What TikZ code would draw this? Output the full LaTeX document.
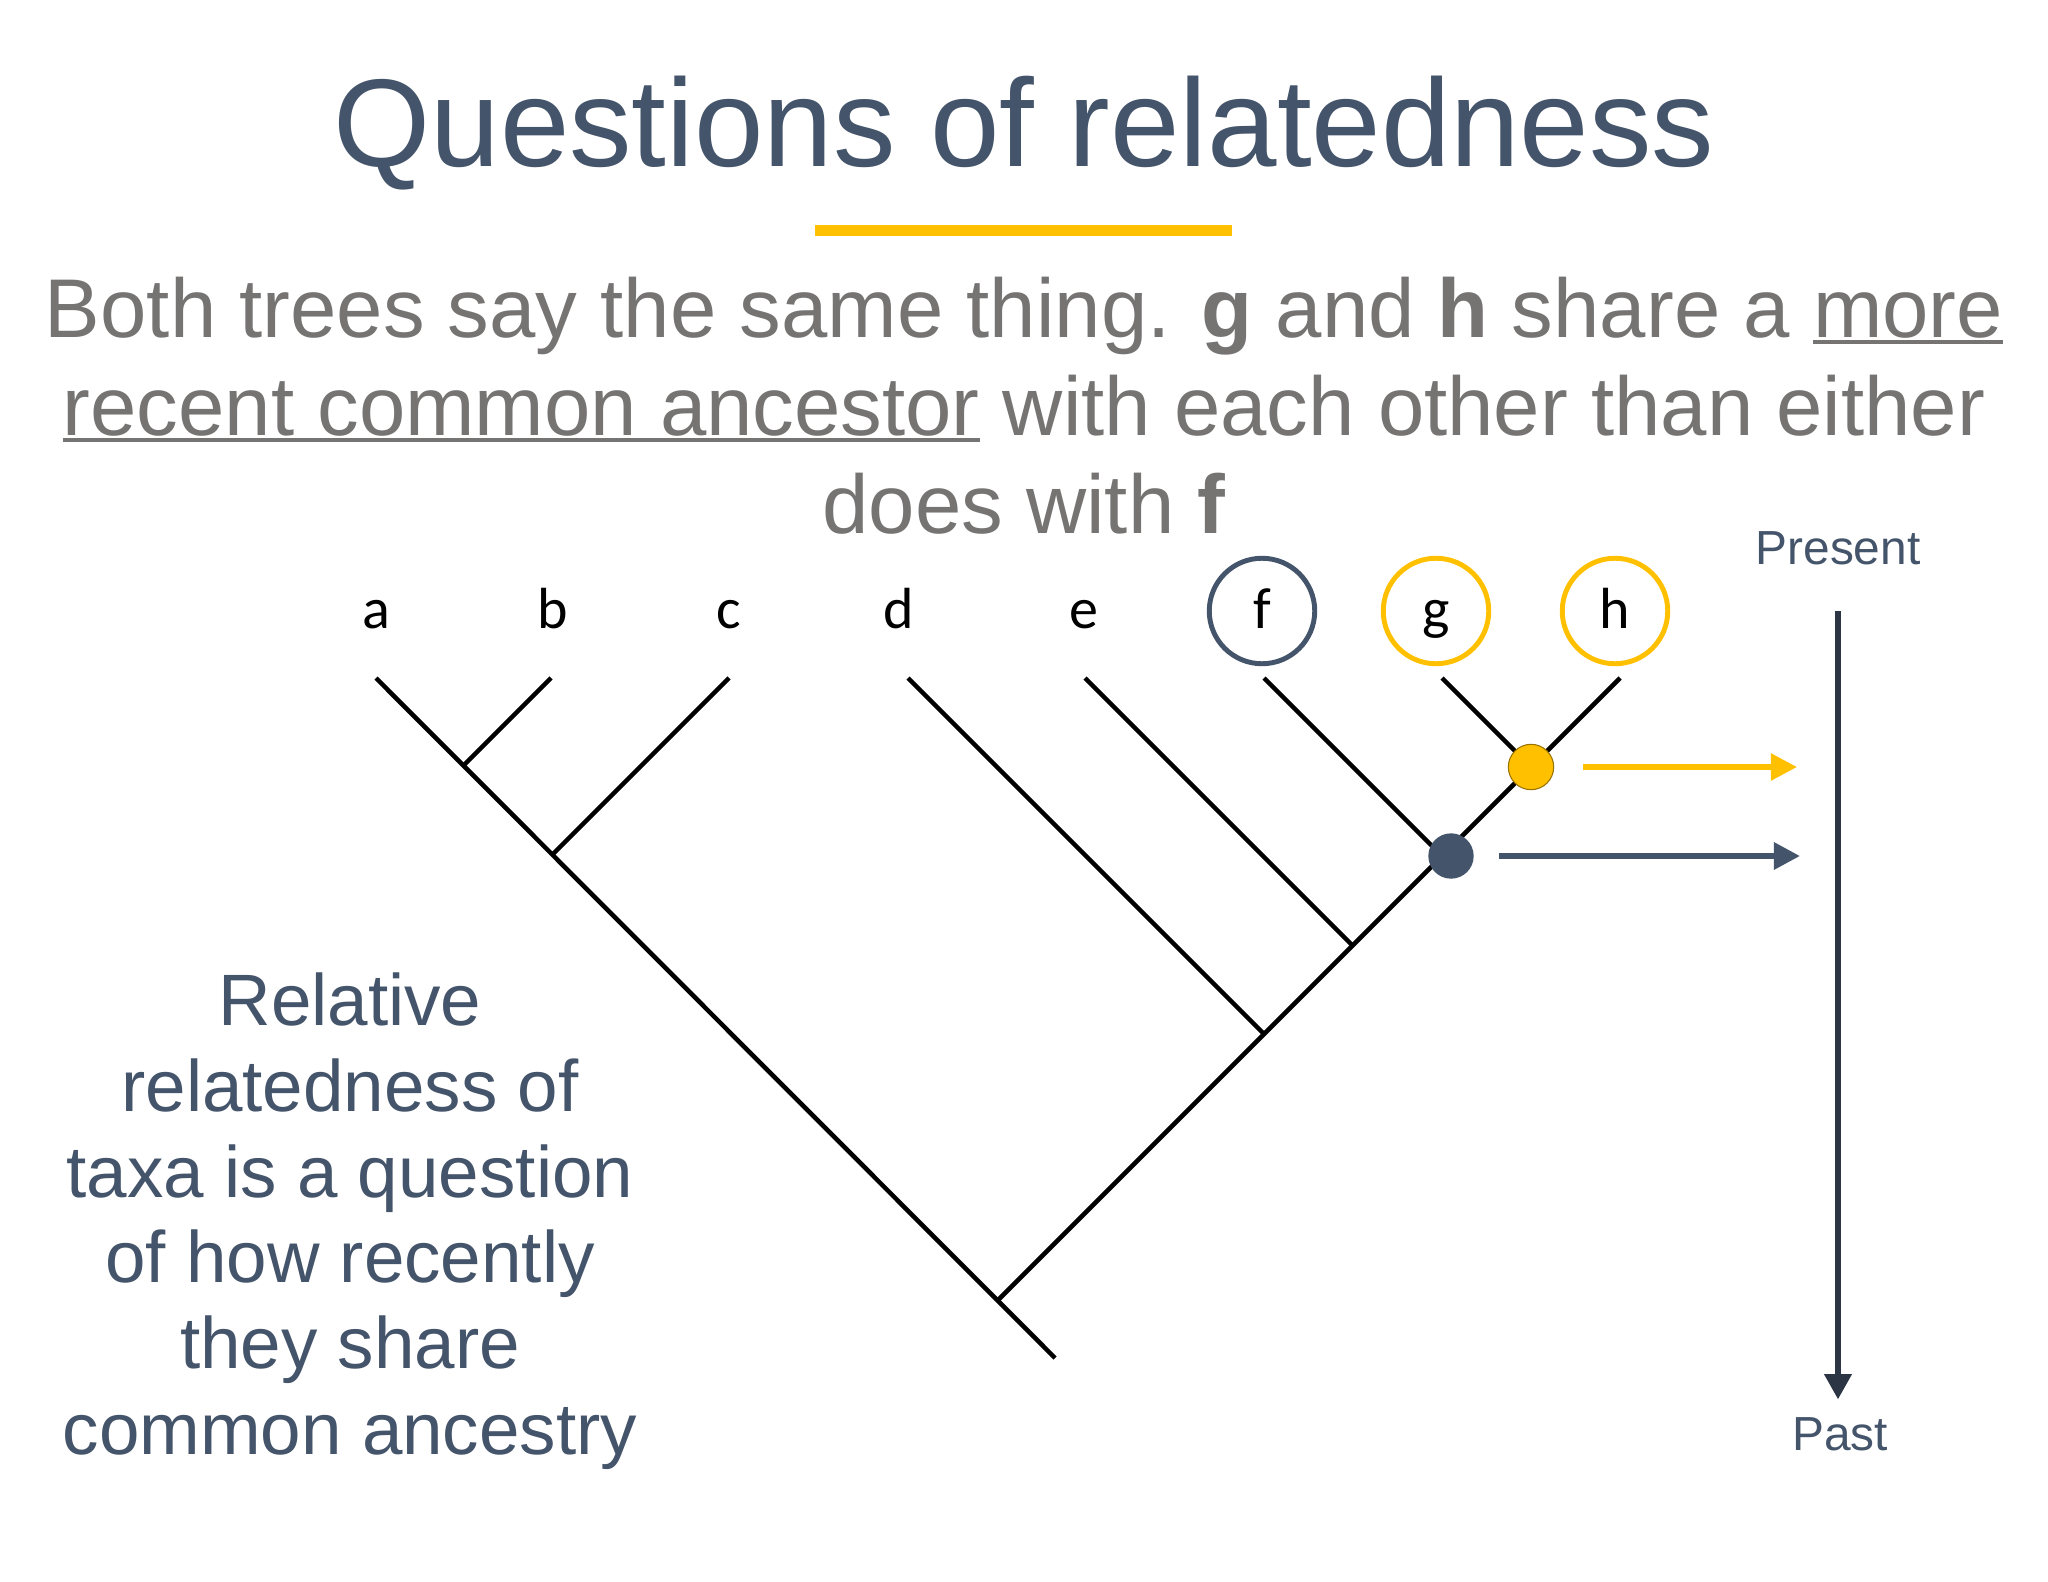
\documentclass[tikz,border=0pt]{standalone}
\usepackage{fontspec}
\setmainfont{Liberation Sans}
\newfontfamily\taxafont{Carlito}
\usetikzlibrary{arrows.meta,positioning}
\definecolor{slate}{HTML}{44546A}
\definecolor{darkslate}{HTML}{2B3544}
\definecolor{gold}{HTML}{FFC000}
\definecolor{bodygray}{HTML}{767373}
\newcommand{\undl}[1]{\setbox0=\hbox{#1}\rlap{\rule[-1.9pt]{\wd0}{1pt}}\box0\relax}
\tikzset{%
taxon/.style={circle, inner sep=0pt, minimum size=30pt, text height=11.4pt, text depth=1.7pt, font=\taxafont\fontsize{16.5}{18}\selectfont},
ringslate/.style={taxon, draw=slate, line width=1.4pt},
ringgold/.style={taxon, draw=gold, line width=1.4pt},
branch/.style={draw=black, line width=1.3pt},
slatedot/.style={circle, fill=slate, inner sep=0pt, minimum size=12.9pt},
golddot/.style={circle, fill=gold, draw=gold!60!black, line width=0.3pt, inner sep=0pt, minimum size=12.9pt},
mrca/.style={-{Triangle[length=7.4pt,width=7.4pt]}, line width=1.5pt},
timeline/.style={draw=darkslate, line width=1.8pt, -{Triangle[length=7.2pt,width=7.4pt]}},
timelabel/.style={inner sep=0pt, text=slate, font=\fontsize{13.6}{16}\selectfont}
}

\begin{document}
\begin{tikzpicture}[x=0.01cm, y=-0.01cm]
	\useasboundingbox[fill=white] (0,0) rectangle (2048,1582);
	% heading
	\node[text=slate, inner sep=0pt, font=\fontsize{35.5}{40}\selectfont] (title) at (1024,167) [anchor=base] {Questions of relatedness};
	\coordinate (rule-l) at (815,230.5);
	\coordinate (rule-r) at (1232,230.5);
	\draw[gold, line width=3.1pt] (rule-l) -- (rule-r);
	\node[text=bodygray, inner sep=0pt, align=center, font=\fontsize{23.7}{27.9}\selectfont] (lead) at (1024,276) [anchor=north]
		{Both trees say the same thing. \textbf{g} and \textbf{h} share a \undl{more}\\
		\undl{recent common ancestor} with each other than either\\
		does with \textbf{f}};
	\node[text=slate, inner sep=0pt, align=center, font=\fontsize{20.7}{24.4}\selectfont] (moral) at (350,972) [anchor=north]
		{Relative\\ relatedness of\\ taxa is a question\\ of how recently\\ they share\\ common ancestry};

	% taxa
	\node[taxon] (a) at (376,611) {a};
	\node[taxon] (b) at (553,611) {b};
	\node[taxon] (c) at (729,611) {c};
	\node[taxon] (d) at (899,611) {d};
	\node[taxon] (e) at (1084,611) {e};
	\node[ringslate] (f) at (1262,611) {f};
	\node[ringgold] (g) at (1436,611) {g};
	\node[ringgold] (h) at (1615,611) {h};

	% tree
	\coordinate (ta) at (376,678);
	\coordinate (tb) at (551,678);
	\coordinate (tc) at (729,678);
	\coordinate (td) at (908,678);
	\coordinate (te) at (1085,678);
	\coordinate (tf) at (1264,678);
	\coordinate (tg) at (1442,678);
	\coordinate (th) at (1620,678);
	\coordinate (ab) at (463.5,765.5);
	\coordinate (abc) at (552.5,854.5);
	\coordinate (gh) at (1531,767);
	\coordinate (fgh) at (1442,856);
	\coordinate (efgh) at (1352.5,945.5);
	\coordinate (defgh) at (1264,1034);
	\coordinate (all) at (998,1300);
	\coordinate (root) at (1055,1358);
	\draw[branch] (ta) -- (root);
	\draw[branch] (th) -- (all);
	\draw[branch] (tb) -- (ab);
	\draw[branch] (tc) -- (abc);
	\draw[branch] (td) -- (defgh);
	\draw[branch] (te) -- (efgh);
	\draw[branch] (tf) -- (fgh);
	\draw[branch] (tg) -- (gh);
	\node[golddot] (ghdot) at (1531,767) {};
	\node[slatedot] (fghdot) at (1451,856) {};

	% ancestor arrows
	\coordinate (gh-from) at (1583,767);
	\coordinate (gh-to) at (1797,767);
	\coordinate (fgh-from) at (1499,856);
	\coordinate (fgh-to) at (1800,856);
	\draw[mrca, gold] (gh-from) -- (gh-to);
	\draw[mrca, slate, line width=1.7pt] (fgh-from) -- (fgh-to);

	% time axis
	\node[timelabel] (present) at (1838,564) [anchor=base] {Present};
	\node[timelabel] (past) at (1840,1450) [anchor=base] {Past};
	\draw[timeline, shorten <=13.1pt, shorten >=4.8pt] (present.south) -- (present.south |- past.north);
\end{tikzpicture}
\end{document}
